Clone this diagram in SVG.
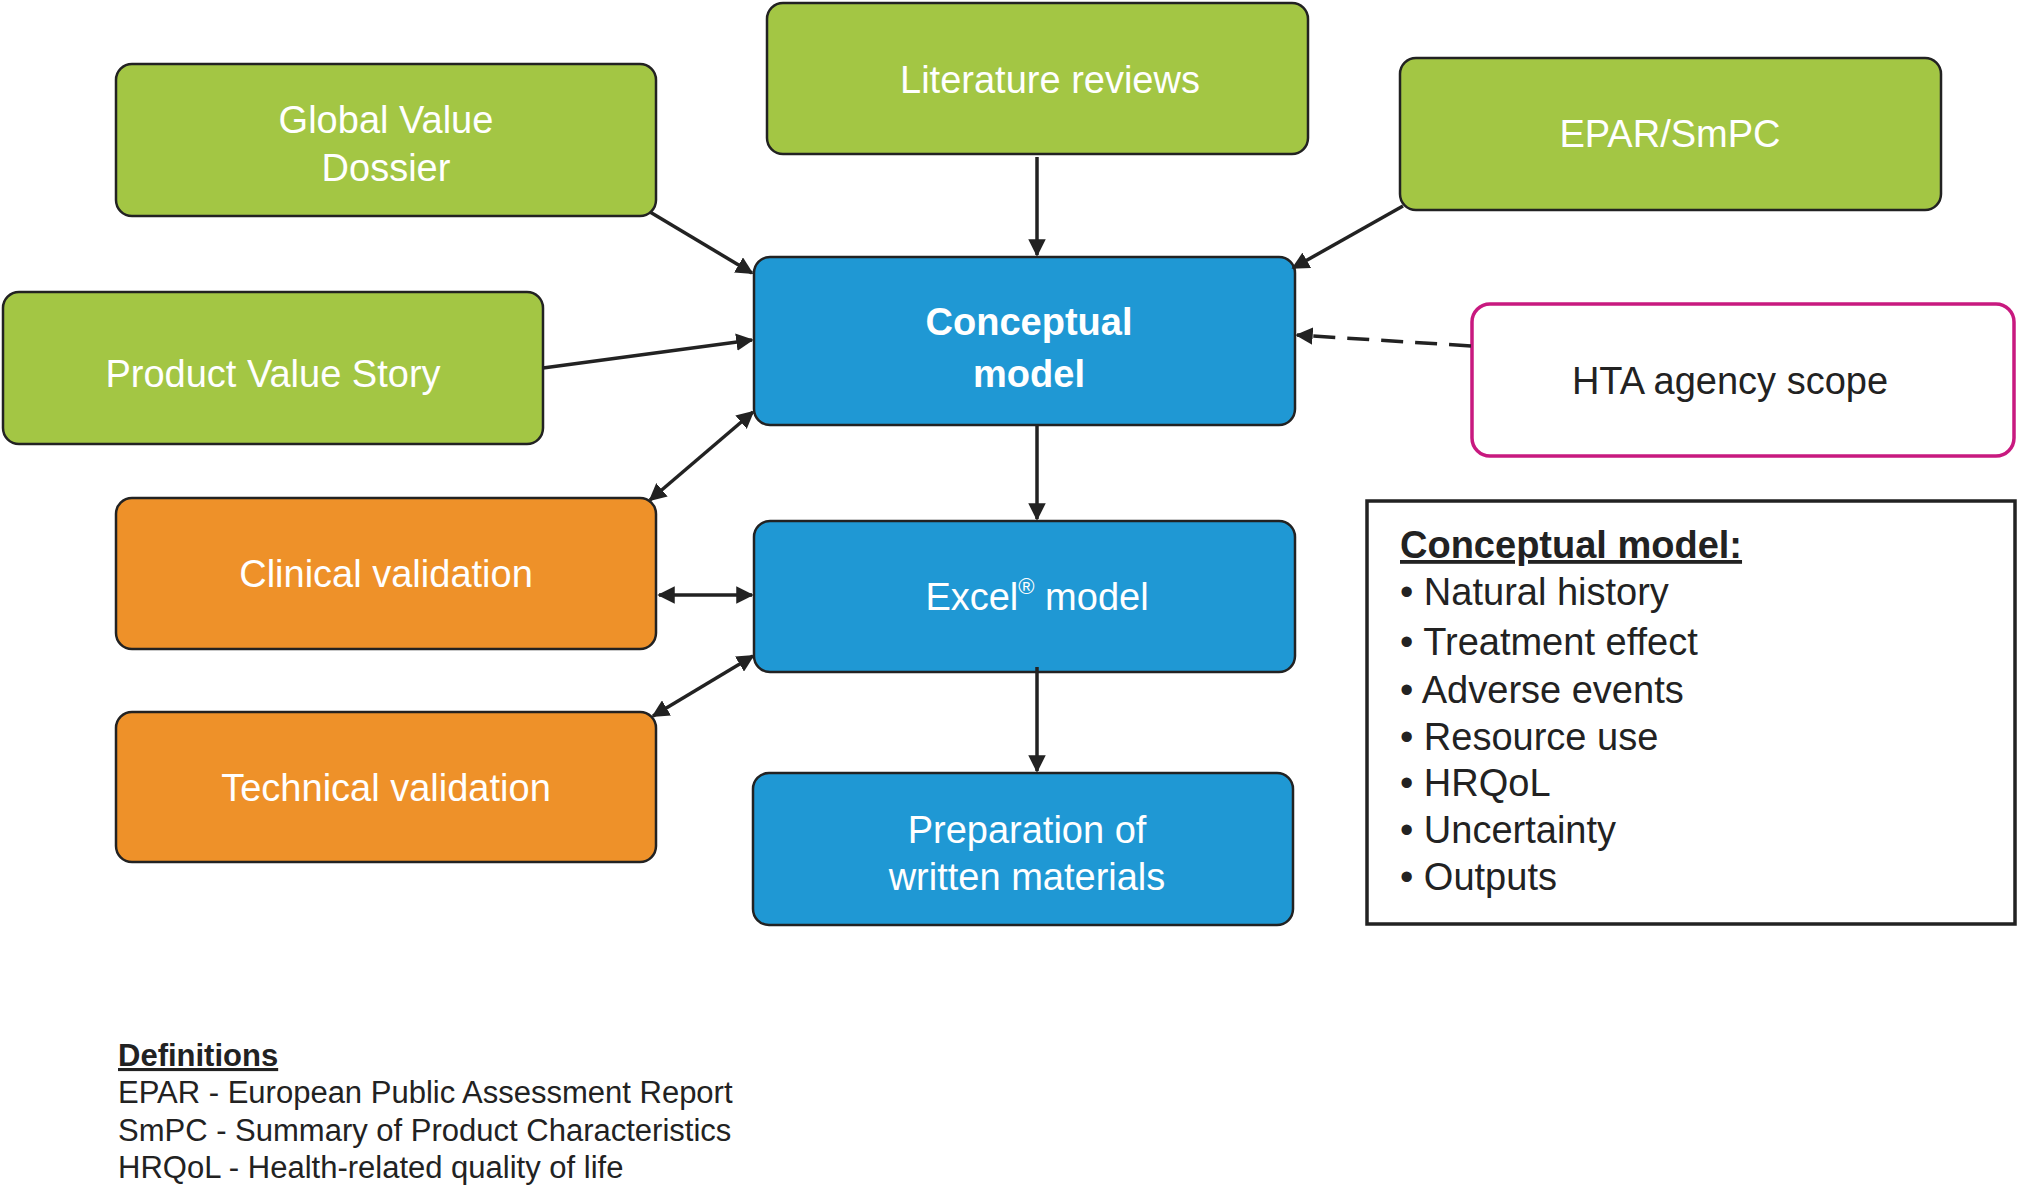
<svg xmlns="http://www.w3.org/2000/svg" width="2018" height="1185" viewBox="0 0 2018 1185">
<style>
.g{fill:#a3c644;stroke:#222;stroke-width:2.5}
.o{fill:#ee9129;stroke:#222;stroke-width:2.5}
.b{fill:#1f98d4;stroke:#222;stroke-width:2.5}
.t{font-family:"Liberation Sans",Arial,sans-serif;font-size:38px;fill:#fff;text-anchor:middle}
.k{font-family:"Liberation Sans",Arial,sans-serif;fill:#222}
.c{stroke:#222;stroke-width:3.5;fill:none}
</style>
<defs>
<marker id="a" viewBox="0 0 10 10" refX="9" refY="5" markerWidth="5" markerHeight="5" orient="auto-start-reverse"><path d="M0,0L10,5L0,10z" fill="#222"/></marker>
</defs>
<rect width="2018" height="1185" fill="#fff"/>
<g id="gvd"><rect class="g" x="116" y="64" width="540" height="152" rx="16"/><text class="t" x="386" y="133">Global Value</text><text class="t" x="386" y="181">Dossier</text></g>
<g id="lit"><rect class="g" x="767" y="3" width="541" height="151" rx="16"/><text class="t" x="1050" y="93">Literature reviews</text></g>
<g id="epar"><rect class="g" x="1400" y="58" width="541" height="152" rx="16"/><text class="t" x="1670" y="147">EPAR/SmPC</text></g>
<g id="pvs"><rect class="g" x="3" y="292" width="540" height="152" rx="16"/><text class="t" x="273" y="387">Product Value Story</text></g>
<g id="cm"><rect class="b" x="754" y="257" width="541" height="168" rx="16"/><text class="t" x="1029" y="335" font-weight="bold" font-size="42">Conceptual</text><text class="t" x="1029" y="387" font-weight="bold" font-size="42">model</text></g>
<g id="hta"><rect x="1472" y="304" width="542" height="152" rx="18" fill="#fff" stroke="#c8197f" stroke-width="3.5"/><text class="t" x="1730" y="394" style="fill:#222">HTA agency scope</text></g>
<g id="clin"><rect class="o" x="116" y="498" width="540" height="151" rx="16"/><text class="t" x="386" y="587">Clinical validation</text></g>
<g id="excel"><rect class="b" x="754" y="521" width="541" height="151" rx="16"/><text class="t" x="1037" y="610">Excel<tspan font-size="22" dy="-16">®</tspan><tspan dy="16">  model</tspan></text></g>
<g id="tech"><rect class="o" x="116" y="712" width="540" height="150" rx="16"/><text class="t" x="386" y="801">Technical validation</text></g>
<g id="prep"><rect class="b" x="753" y="773" width="540" height="152" rx="16"/><text class="t" x="1027" y="843">Preparation of</text><text class="t" x="1027" y="890">written materials</text></g>
<g id="list"><rect x="1367" y="501" width="648" height="423" fill="#fff" stroke="#222" stroke-width="3.5"/>
<text class="k" font-size="38" x="1400" y="558" font-weight="bold" text-decoration="underline">Conceptual model:</text>
<text class="k" font-size="38" x="1400" y="605">• Natural history</text>
<text class="k" font-size="38" x="1400" y="655">• Treatment effect</text>
<text class="k" font-size="38" x="1400" y="703">• Adverse events</text>
<text class="k" font-size="38" x="1400" y="750">• Resource use</text>
<text class="k" font-size="38" x="1400" y="796">• HRQoL</text>
<text class="k" font-size="38" x="1400" y="843">• Uncertainty</text>
<text class="k" font-size="38" x="1400" y="890">• Outputs</text></g>
<g id="defs-text">
<text class="k" font-size="31" x="118" y="1066" font-weight="bold" text-decoration="underline">Definitions</text>
<text class="k" font-size="31" x="118" y="1103">EPAR - European Public Assessment Report</text>
<text class="k" font-size="31" x="118" y="1141">SmPC - Summary of Product Characteristics</text>
<text class="k" font-size="31" x="118" y="1178">HRQoL - Health-related quality of life</text>
</g>
<g id="connectors">
<line class="c" x1="650" y1="212" x2="752" y2="273" marker-end="url(#a)"/>
<line class="c" x1="1037" y1="157" x2="1037" y2="255" marker-end="url(#a)"/>
<line class="c" x1="1403" y1="206" x2="1293" y2="268" marker-end="url(#a)"/>
<line class="c" x1="543" y1="368" x2="752" y2="340" marker-end="url(#a)"/>
<line class="c" x1="1471" y1="346" x2="1297" y2="335" stroke-dasharray="22,12" marker-end="url(#a)"/>
<line class="c" x1="753" y1="412" x2="650" y2="500" marker-start="url(#a)" marker-end="url(#a)"/>
<line class="c" x1="1037" y1="425" x2="1037" y2="519" marker-end="url(#a)"/>
<line class="c" x1="659" y1="595" x2="752" y2="595" marker-start="url(#a)" marker-end="url(#a)"/>
<line class="c" x1="753" y1="656" x2="653" y2="716" marker-start="url(#a)" marker-end="url(#a)"/>
<line class="c" x1="1037" y1="667" x2="1037" y2="771" marker-end="url(#a)"/>
</g>
</svg>
